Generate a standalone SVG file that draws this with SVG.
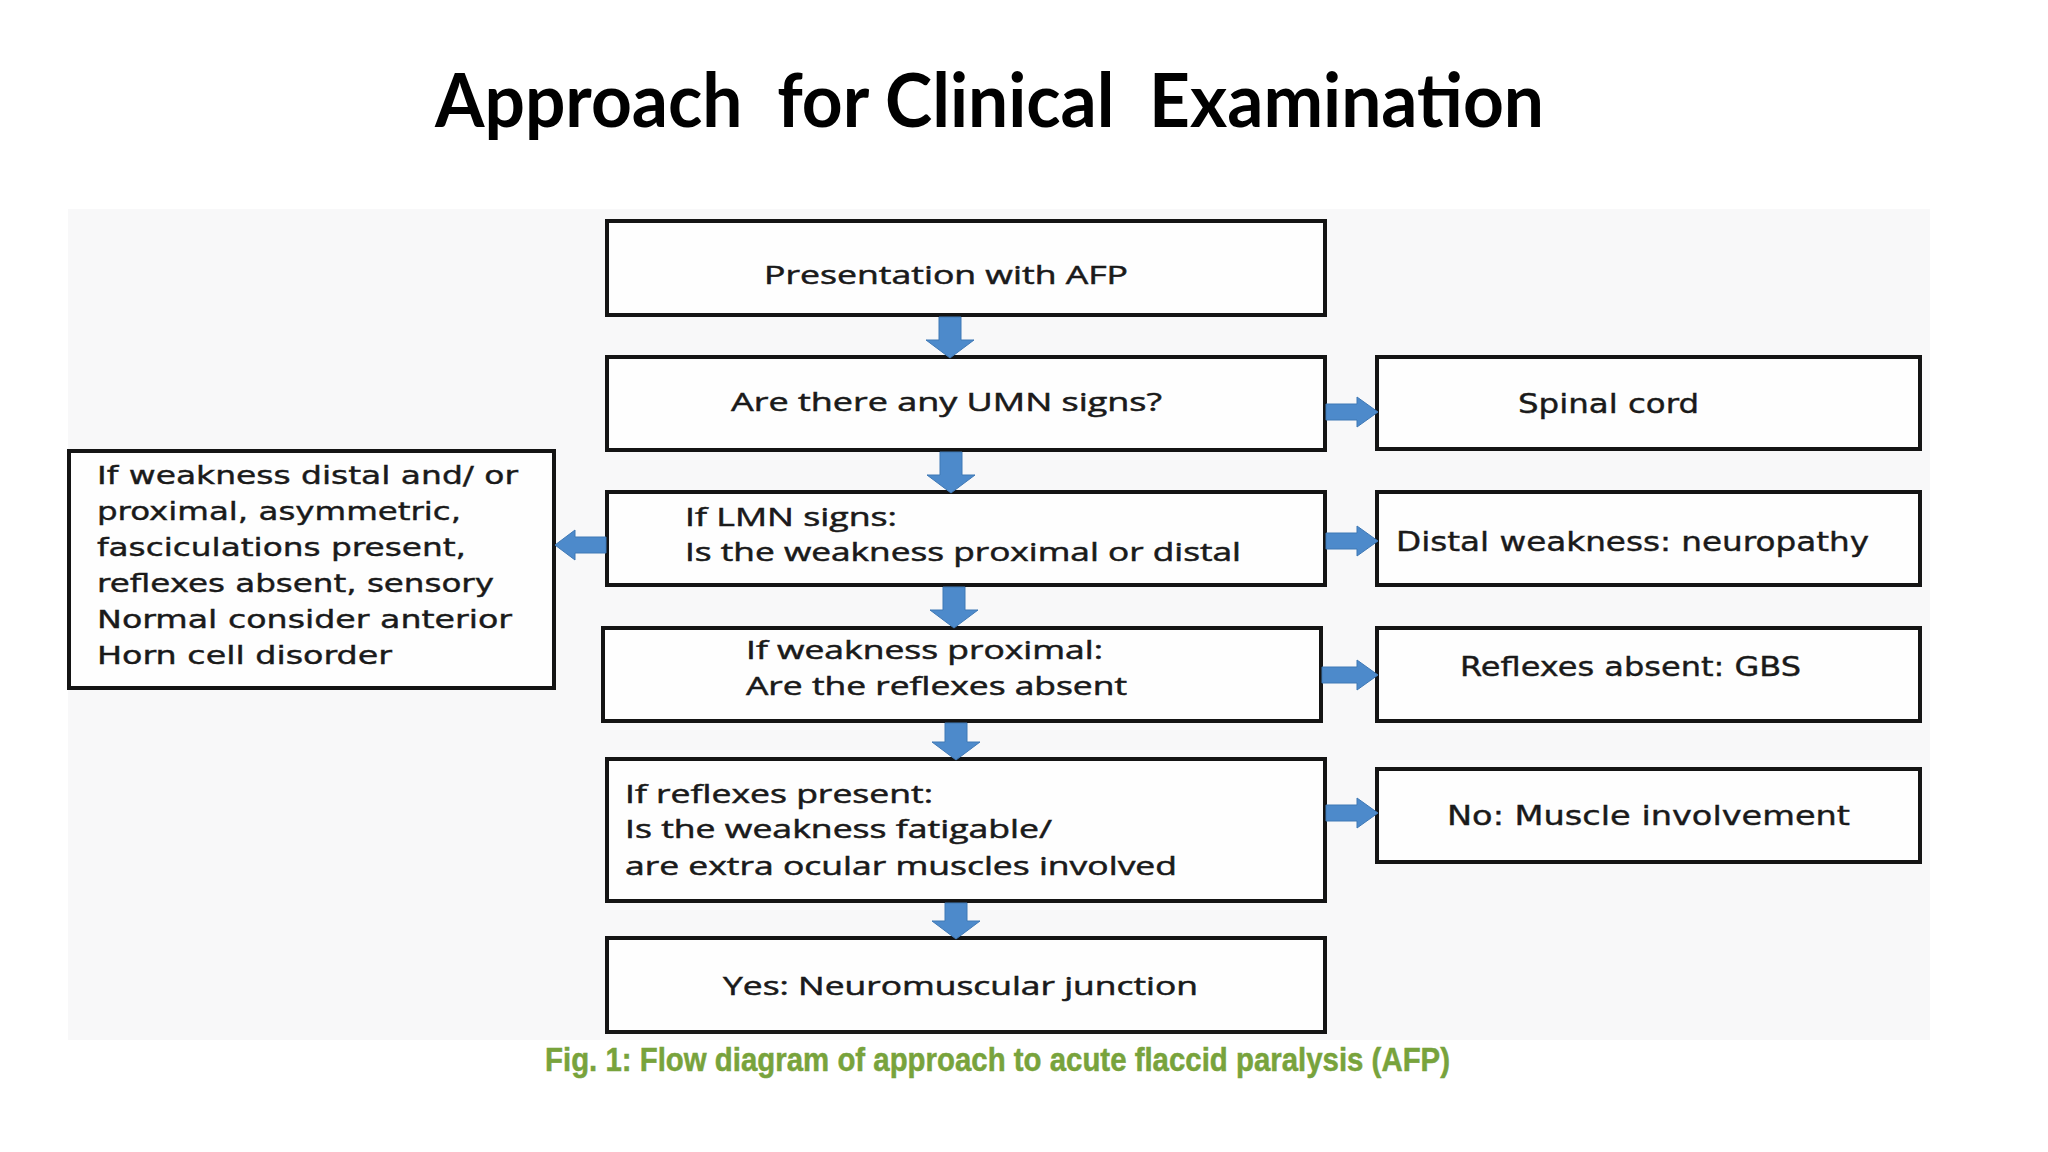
<svg xmlns="http://www.w3.org/2000/svg" width="2048" height="1152" viewBox="0 0 2048 1152">
<style>
.box{fill:#fefefe;stroke:#141414;stroke-width:4}
.m{font-family:"Open Sans","Noto Sans",sans-serif;font-size:25px;fill:#1a1a1a;stroke:#1a1a1a;stroke-width:0.5}
.r{font-family:"DejaVu Sans","Noto Sans",sans-serif;font-size:26px;fill:#1a1a1a;stroke:#1a1a1a;stroke-width:0.4}
.l{font-family:"DejaVu Sans","Noto Sans",sans-serif;font-size:24px;fill:#1a1a1a;stroke:#1a1a1a;stroke-width:0.4}
.arrow{fill:#4d8acb;stroke:#3f78b5;stroke-width:1}
.title{font-family:Lato,"Open Sans",sans-serif;font-weight:bold;font-size:74px;fill:#000;white-space:pre}
.cap{font-family:"Liberation Sans",Arial,sans-serif;font-weight:bold;font-size:34px;fill:#78a33c;stroke:#78a33c;stroke-width:0.5}
</style>
<rect x="0" y="0" width="2048" height="1152" fill="#ffffff"/>
<rect x="68" y="209" width="1862" height="831" fill="#f8f8f9"/>
<text class="title" x="435" y="127" textLength="1109" lengthAdjust="spacingAndGlyphs" xml:space="preserve">Approach  for Clinical  Examination</text>

<g id="n1"><rect class="box" x="607" y="221" width="718" height="94"/>
<text class="m" x="764" y="284" textLength="364" lengthAdjust="spacingAndGlyphs">Presentation with AFP</text></g>
<g id="n2"><rect class="box" x="607" y="357" width="718" height="93"/>
<text class="m" x="731" y="411" textLength="431" lengthAdjust="spacingAndGlyphs">Are there any UMN signs?</text></g>
<g id="n3"><rect class="box" x="607" y="492" width="718" height="93"/>
<text class="m" x="685" y="526" textLength="212" lengthAdjust="spacingAndGlyphs">If LMN signs:</text>
<text class="m" x="685" y="561" textLength="556" lengthAdjust="spacingAndGlyphs">Is the weakness proximal or distal</text></g>
<g id="n4"><rect class="box" x="603" y="628" width="718" height="93"/>
<text class="m" x="746" y="659" textLength="357" lengthAdjust="spacingAndGlyphs">If weakness proximal:</text>
<text class="m" x="746" y="695" textLength="381" lengthAdjust="spacingAndGlyphs">Are the reflexes absent</text></g>
<g id="n5"><rect class="box" x="607" y="759" width="718" height="142"/>
<text class="m" x="625" y="803" textLength="308" lengthAdjust="spacingAndGlyphs">If reflexes present:</text>
<text class="m" x="625" y="838" textLength="427" lengthAdjust="spacingAndGlyphs">Is the weakness fatigable/</text>
<text class="m" x="625" y="875" textLength="552" lengthAdjust="spacingAndGlyphs">are extra ocular muscles involved</text></g>
<g id="n6"><rect class="box" x="607" y="938" width="718" height="94"/>
<text class="m" x="723" y="995" textLength="475" lengthAdjust="spacingAndGlyphs">Yes: Neuromuscular junction</text></g>

<g id="n7"><rect class="box" x="1377" y="357" width="543" height="92"/>
<text class="r" x="1518" y="413" textLength="181" lengthAdjust="spacingAndGlyphs">Spinal cord</text></g>
<g id="n8"><rect class="box" x="1377" y="492" width="543" height="93"/>
<text class="r" x="1396" y="551" textLength="473" lengthAdjust="spacingAndGlyphs">Distal weakness: neuropathy</text></g>
<g id="n9"><rect class="box" x="1377" y="628" width="543" height="93"/>
<text class="r" x="1460" y="676" textLength="341" lengthAdjust="spacingAndGlyphs">Reflexes absent: GBS</text></g>
<g id="n10"><rect class="box" x="1377" y="769" width="543" height="93"/>
<text class="r" x="1447" y="825" textLength="403" lengthAdjust="spacingAndGlyphs">No: Muscle involvement</text></g>

<g id="n11"><rect class="box" x="69" y="451" width="485" height="237"/>
<text class="l" x="97" y="484" textLength="421" lengthAdjust="spacingAndGlyphs">If weakness distal and/ or</text>
<text class="l" x="97" y="520" textLength="364" lengthAdjust="spacingAndGlyphs">proximal, asymmetric,</text>
<text class="l" x="97" y="556" textLength="369" lengthAdjust="spacingAndGlyphs">fasciculations present,</text>
<text class="l" x="97" y="592" textLength="397" lengthAdjust="spacingAndGlyphs">reflexes absent, sensory</text>
<text class="l" x="97" y="628" textLength="415" lengthAdjust="spacingAndGlyphs">Normal consider anterior</text>
<text class="l" x="97" y="664" textLength="295" lengthAdjust="spacingAndGlyphs">Horn cell disorder</text></g>

<g id="connectors">
<polygon class="arrow" points="939,317 961,317 961,340 974,340 950,358 926,340 939,340"/>
<polygon class="arrow" points="940,452 962,452 962,475 975,475 951,493 927,475 940,475"/>
<polygon class="arrow" points="943,587 965,587 965,610 978,610 954,628 930,610 943,610"/>
<polygon class="arrow" points="945,723 967,723 967,742 980,742 956,760 932,742 945,742"/>
<polygon class="arrow" points="945,903 967,903 967,921 980,921 956,939 932,921 945,921"/>
<polygon class="arrow" points="1326,404 1357,404 1357,397 1378,412 1357,427 1357,420 1326,420"/>
<polygon class="arrow" points="1326,533 1357,533 1357,526 1378,541 1357,556 1357,549 1326,549"/>
<polygon class="arrow" points="1322,667 1357,667 1357,660 1378,675 1357,690 1357,683 1322,683"/>
<polygon class="arrow" points="1326,805 1357,805 1357,798 1378,813 1357,828 1357,821 1326,821"/>
<polygon class="arrow" points="606,537 575,537 575,530 555,545 575,560 575,553 606,553"/>
</g>

<text class="cap" x="545" y="1071" textLength="905" lengthAdjust="spacingAndGlyphs">Fig. 1: Flow diagram of approach to acute flaccid paralysis (AFP)</text>
</svg>
